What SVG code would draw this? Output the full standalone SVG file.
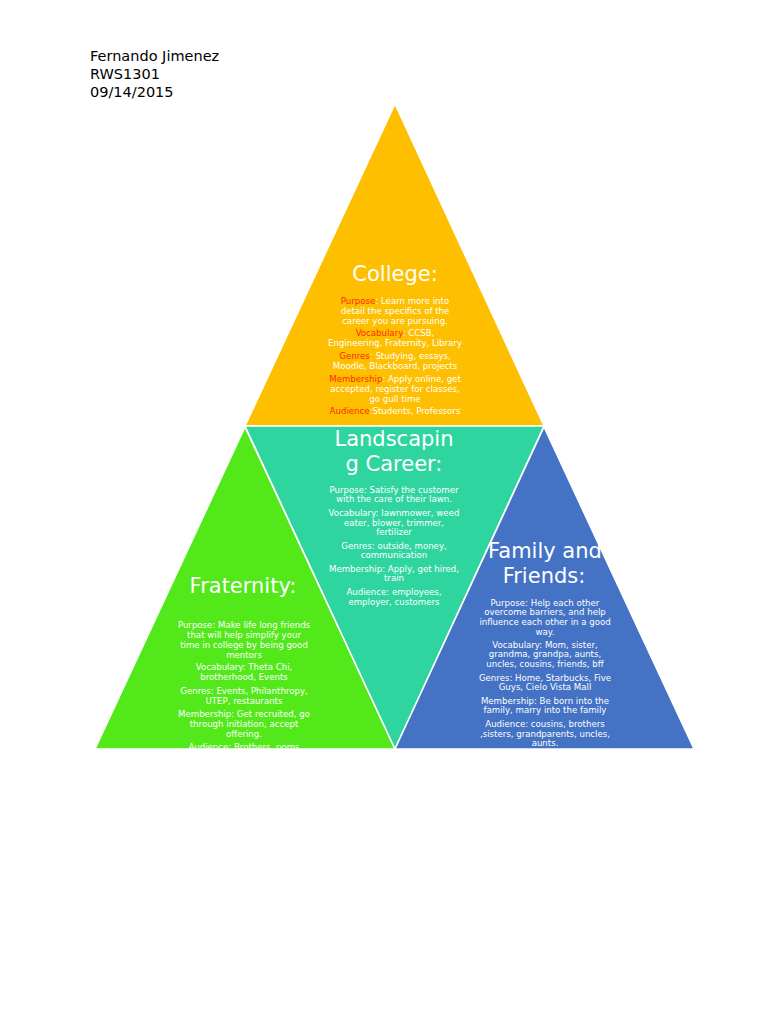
<svg xmlns="http://www.w3.org/2000/svg" width="768" height="1024" viewBox="0 0 768 1024">
<style>
text{font-family:"DejaVu Sans",sans-serif;fill:#fff;text-anchor:middle}
.h{font-size:21px}
.b{font-size:8.6px}
.r{fill:#ff2a00}
.hd{font-size:14.5px;fill:#000;text-anchor:start}
</style>
<defs>
<clipPath id="cr"><rect x="0" y="0" width="605" height="1024"/></clipPath>
<clipPath id="cl"><rect x="0" y="0" width="768" height="749"/></clipPath>
</defs>
<rect width="768" height="1024" fill="#fff"/>
<text class="hd" x="90" y="61">Fernando Jimenez</text>
<text class="hd" x="90" y="79">RWS1301</text>
<text class="hd" x="90" y="97">09/14/2015</text>
<g id="college">
<polygon points="395,104 544,426 245,426" fill="#fdbf00" stroke="#fff" stroke-width="1.5"/>
<text class="h" x="395" y="281">College:</text>
<text class="b" x="395" y="304"><tspan class="r">Purpose</tspan>: Learn more into</text>
<text class="b" x="395" y="314">detail the specifics of the</text>
<text class="b" x="395" y="324">career you are pursuing.</text>
<text class="b" x="395" y="336"><tspan class="r">Vocabulary</tspan>: CCSB,</text>
<text class="b" x="395" y="346">Engineering, Fraternity, Library</text>
<text class="b" x="395" y="359"><tspan class="r">Genres</tspan>: Studying, essays,</text>
<text class="b" x="395" y="369">Moodle, Blackboard, projects</text>
<text class="b" x="395" y="382"><tspan class="r">Membership</tspan>: Apply online,  get</text>
<text class="b" x="395" y="392">accepted, register for classes,</text>
<text class="b" x="395" y="402">go gull time</text>
<text class="b" x="395" y="414"><tspan class="r">Audience</tspan>:Students, Professors</text>
</g>
<g id="fraternity" clip-path="url(#cl)">
<polygon points="245,427 395,749 95,749" fill="#52e81a" stroke="#fff" stroke-width="1.5"/>
<text class="h" x="243" y="593">Fraternity:</text>
<text class="b" x="244" y="628">Purpose: Make life long friends</text>
<text class="b" x="244" y="638">that will help simplify your</text>
<text class="b" x="244" y="648">time in college by being good</text>
<text class="b" x="244" y="658">mentors</text>
<text class="b" x="244" y="670">Vocabulary: Theta Chi,</text>
<text class="b" x="244" y="680">brotherhood, Events</text>
<text class="b" x="244" y="694">Genres: Events, Philanthropy,</text>
<text class="b" x="244" y="704">UTEP, restaurants</text>
<text class="b" x="244" y="717">Membership: Get recruited, go</text>
<text class="b" x="244" y="727">through initiation, accept</text>
<text class="b" x="244" y="737">offering.</text>
<text class="b" x="244" y="750">Audience: Brothers, poms</text>
</g>
<g id="landscaping">
<polygon points="245,426 544,426 395,749" fill="#2fd59f" stroke="#fff" stroke-width="1.5"/>
<text class="h" x="394" y="446">Landscapin</text>
<text class="h" x="394" y="471">g Career:</text>
<text class="b" x="394" y="493">Purpose: Satisfy the customer</text>
<text class="b" x="394" y="502">with the care of their lawn.</text>
<text class="b" x="394" y="516">Vocabulary: lawnmower, weed</text>
<text class="b" x="394" y="526">eater, blower, trimmer,</text>
<text class="b" x="394" y="535">fertilizer</text>
<text class="b" x="394" y="549">Genres: outside, money,</text>
<text class="b" x="394" y="558">communication</text>
<text class="b" x="394" y="572">Membership: Apply, get hired,</text>
<text class="b" x="394" y="581">train</text>
<text class="b" x="394" y="595">Audience: employees,</text>
<text class="b" x="394" y="605">employer, customers</text>
</g>
<g id="family">
<polygon points="544,427 694,749 395,749" fill="#4472c4" stroke="#fff" stroke-width="1.5"/>
<g clip-path="url(#cr)">
<text class="h" x="545" y="558">Family and</text>
</g>
<text class="h" x="544" y="583">Friends:</text>
<text class="b" x="545" y="606">Purpose: Help each other</text>
<text class="b" x="545" y="615">overcome barriers, and help</text>
<text class="b" x="545" y="625">influence each other in a good</text>
<text class="b" x="545" y="635">way.</text>
<text class="b" x="545" y="648">Vocabulary: Mom, sister,</text>
<text class="b" x="545" y="657">grandma, grandpa, aunts,</text>
<text class="b" x="545" y="667">uncles, cousins, friends, bff</text>
<text class="b" x="545" y="681">Genres: Home, Starbucks, Five</text>
<text class="b" x="545" y="690">Guys, Cielo Vista Mall</text>
<text class="b" x="545" y="704">Membership: Be born into the</text>
<text class="b" x="545" y="713">family, marry into the family</text>
<text class="b" x="545" y="727">Audience: cousins, brothers</text>
<text class="b" x="545" y="737">,sisters, grandparents, uncles,</text>
<text class="b" x="545" y="746">aunts.</text>
</g>
<g id="connectors"/>
</svg>
